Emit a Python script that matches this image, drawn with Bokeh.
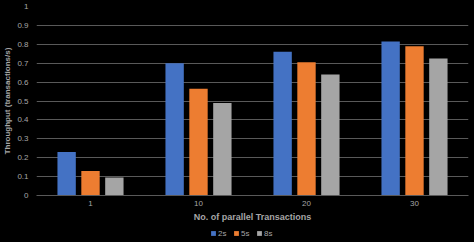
from bokeh.plotting import figure
from bokeh.layouts import column
from bokeh.models import ColumnDataSource, FactorRange, Legend, LegendItem, SingleIntervalTicker, NumeralTickFormatter, Range1d
from bokeh.transform import dodge
from bokeh.embed import file_html
from bokeh.resources import INLINE

categories = ["1", "10", "20", "30"]
series_names = ["2s", "5s", "8s"]
vals_2s = [0.23, 0.70, 0.76, 0.815]
vals_5s = [0.13, 0.565, 0.705, 0.79]
vals_8s = [0.095, 0.49, 0.64, 0.725]
colors = ["#4472C4", "#ED7D31", "#A5A5A5"]

src = ColumnDataSource(dict(cat=categories, s2=vals_2s, s5=vals_5s, s8=vals_8s))

TXT = "#a6a6a6"
FONT = "Liberation Sans"

p = figure(width=474, height=224, x_range=FactorRange(*categories), y_range=(0, 1),
           output_backend="svg", toolbar_location=None,
           background_fill_color="black", border_fill_color="black",
           min_border_left=0, min_border_right=6, min_border_top=6, min_border_bottom=0)
p.outline_line_color = None

for name, col, off, c in zip(series_names, ["s2", "s5", "s8"], [-0.221, 0.0, 0.221], colors):
    p.vbar(x=dodge("cat", off, range=p.x_range), top=col, width=0.17, source=src,
           fill_color=c, line_color=None)

p.yaxis.ticker = SingleIntervalTicker(interval=0.1)
p.yaxis.formatter = NumeralTickFormatter(format="0.[0]")
p.yaxis.axis_line_color = None
p.yaxis.major_tick_line_color = None
p.yaxis.minor_tick_line_color = None
p.yaxis.major_tick_out = 0
p.yaxis.major_tick_in = 0
p.yaxis.major_label_text_color = TXT
p.yaxis.major_label_text_font = FONT
p.yaxis.major_label_text_font_size = "8px"
p.yaxis.major_label_standoff = 4
p.yaxis.axis_label = "Throughput (transactions/s)"
p.yaxis.axis_label_text_color = TXT
p.yaxis.axis_label_text_font = FONT
p.yaxis.axis_label_text_font_size = "8px"
p.yaxis.axis_label_text_font_style = "bold"
p.yaxis.axis_label_standoff = 2

p.xaxis.axis_line_color = "#595959"
p.xaxis.major_tick_line_color = None
p.xaxis.minor_tick_line_color = None
p.xaxis.major_tick_out = 0
p.xaxis.major_tick_in = 0
p.xaxis.major_label_text_color = TXT
p.xaxis.major_label_text_font = FONT
p.xaxis.major_label_text_font_size = "8px"
p.xaxis.major_label_standoff = 5
p.xaxis.axis_label = "No. of parallel Transactions"
p.xaxis.axis_label_text_color = TXT
p.xaxis.axis_label_text_font = FONT
p.xaxis.axis_label_text_font_size = "9px"
p.xaxis.axis_label_text_font_style = "bold"
p.xaxis.axis_label_standoff = 3

p.xgrid.grid_line_color = None
p.ygrid.grid_line_color = "#595959"
p.ygrid.grid_line_width = 1

# legend strip below the chart (dummy renderers sit outside the visible range)
lg = figure(width=474, height=18, x_range=Range1d(0, 1), y_range=Range1d(0, 1),
            output_backend="svg", toolbar_location=None,
            background_fill_color="black", border_fill_color="black",
            min_border=0, x_axis_type=None, y_axis_type=None)
lg.outline_line_color = None
lg.xgrid.visible = False
lg.ygrid.visible = False
dummy = ColumnDataSource(dict(x=[-5.0], top=[0.0]))
items = []
for n, c in zip(series_names, colors):
    r = lg.vbar(x="x", top="top", width=0.1, source=dummy, fill_color=c, line_color=None)
    items.append(LegendItem(label=n, renderers=[r]))
legend = Legend(items=items, orientation="horizontal", location=(174, 4),
                background_fill_alpha=0, border_line_color=None,
                label_text_color=TXT, label_text_font=FONT, label_text_font_size="8px",
                glyph_width=6, glyph_height=6, label_standoff=2, spacing=5,
                label_width=10, padding=0, margin=0, label_height=10)
lg.add_layout(legend, "center")

layout = column(p, lg, spacing=0, background="black")
open("out.html", "w").write(file_html(layout, INLINE))
